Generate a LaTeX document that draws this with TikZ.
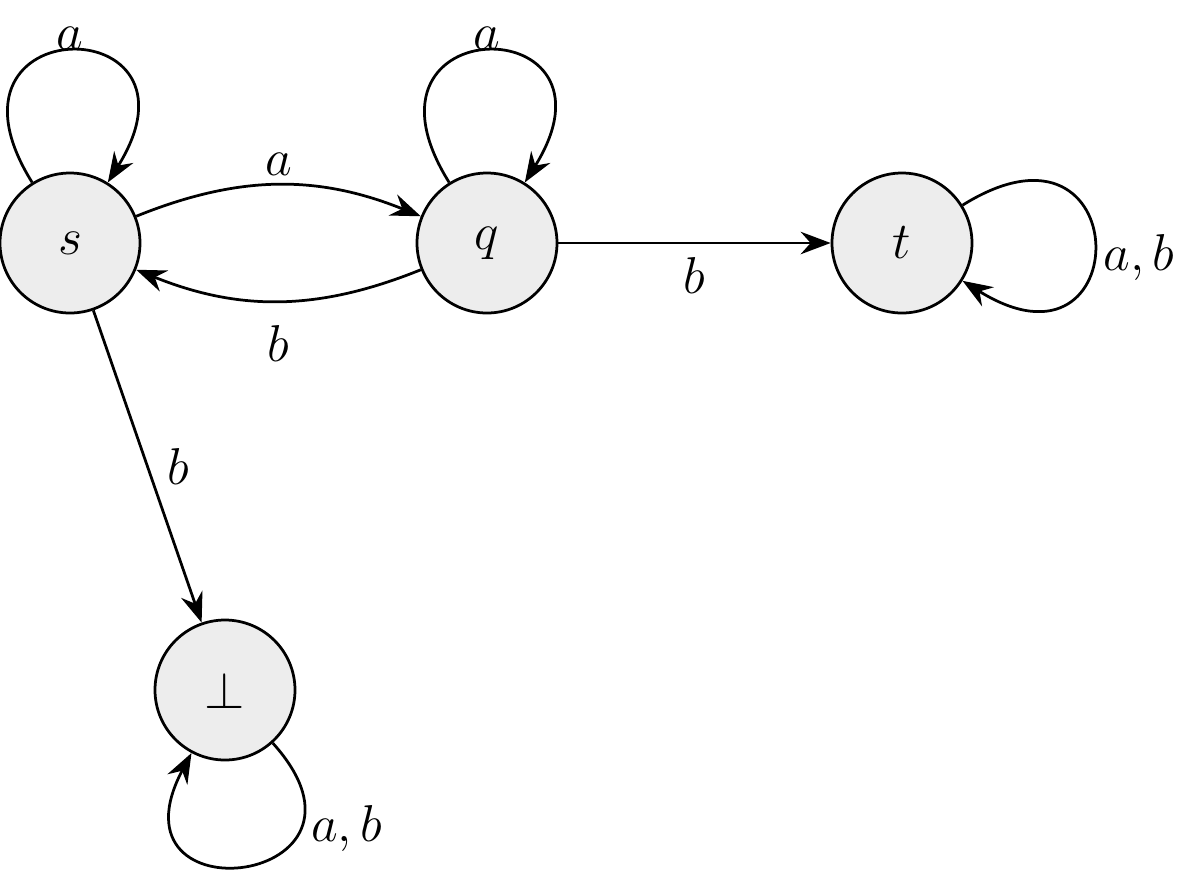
\documentclass[tikz,border=0pt]{standalone}
\usetikzlibrary{arrows.meta}
\begin{document}
\begin{tikzpicture}[x=0.4pt,y=-0.4pt,
  st/.style={circle,draw,line width=1.1pt,fill=black!7,minimum size=56pt,inner sep=0pt,font=\fontsize{22}{24}\selectfont},
  lab/.style={font=\fontsize{21}{24}\selectfont},
  tr/.style={line width=1.1pt,-{Stealth[length=12pt,width=9pt,inset=4pt]}}]
\useasboundingbox (0,0) rectangle (1195,889);
\node[st] (s) at (70,243) {$s$};
\node[st] (q) at (487,243) {$q$};
\node[st] (t) at (902,243) {$t$};
\node[st] (f) at (225,690) {$\bot$};
\draw[tr] (s) to[out=122,in=58,looseness=7] node[lab,above,inner sep=0pt]{$a$} (s);
\draw[tr] (q) to[out=122,in=58,looseness=7] node[lab,above,inner sep=0pt]{$a$} (q);
\draw[tr] (t) to[out=32,in=-32,looseness=7] node[lab,right,yshift=-6pt]{$a,b$} (t);
\draw[tr] (f) to[out=-48,in=-118,looseness=6] node[lab,right,pos=0.25]{$a,b$} (f);
\draw[tr] (s) to[bend left=22] node[lab,above]{$a$} (q);
\draw[tr] (q) to[bend left=22] node[lab,below,yshift=-6pt]{$b$} (s);
\draw[tr] (q) -- node[lab,below,yshift=-2pt]{$b$} (t);
\draw[tr] (s) -- node[lab,right,xshift=4pt]{$b$} (f);
\end{tikzpicture}
\end{document}
